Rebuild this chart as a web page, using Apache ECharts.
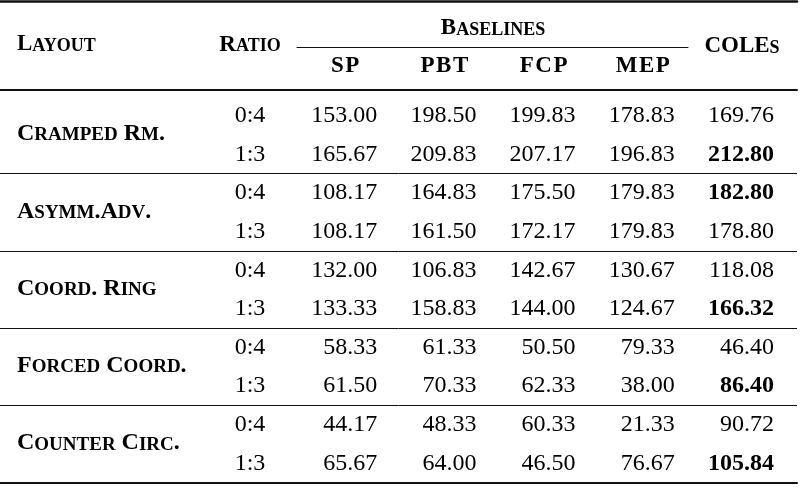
<!DOCTYPE html>
<html>
<head>
<meta charset="utf-8">
<script src="https://cdn.jsdelivr.net/npm/echarts@6/dist/echarts.min.js"></script>
<style>
html,body{margin:0;padding:0;background:#fff;}
#c{width:801px;height:488px;}
</style>
</head>
<body>
<div id="c"></div>
<script>
// ---- data ----
const layouts = ['Cramped Rm.', 'Asymm.Adv.', 'Coord. Ring', 'Forced Coord.', 'Counter Circ.'];
const ratios = ['0:4', '1:3'];
const columns = ['SP', 'PBT', 'FCP', 'MEP', 'COLEs'];
const headLayout = 'Layout';
const headRatio = 'Ratio';
const headBaselines = 'Baselines';
const SP    = [153.00, 165.67, 108.17, 108.17, 132.00, 133.33, 58.33, 61.50, 44.17, 65.67];
const PBT   = [198.50, 209.83, 164.83, 161.50, 106.83, 158.83, 61.33, 70.33, 48.33, 64.00];
const FCP   = [199.83, 207.17, 175.50, 172.17, 142.67, 144.00, 50.50, 62.33, 60.33, 46.50];
const MEP   = [178.83, 196.83, 179.83, 179.83, 130.67, 124.67, 79.33, 38.00, 21.33, 76.67];
const COLEs = [169.76, 212.80, 182.80, 178.80, 118.08, 166.32, 46.40, 86.40, 90.72, 105.84];

// ---- build ----
const FONT = 'Liberation Serif';
const INK = '#000';
const RULE = '#111';
const table = { SP, PBT, FCP, MEP, COLEs };

const rowIds = [];
layouts.forEach(l => ratios.forEach(r => rowIds.push(l + '|' + r)));

const best = layouts.map((l, g) => {
  let m = -Infinity;
  columns.forEach(c => ratios.forEach((r, j) => { m = Math.max(m, table[c][g * ratios.length + j]); }));
  return m;
});

const cellData = [];
columns.forEach((c, k) => {
  table[c].forEach((v, r) => {
    const item = { value: [k, r, v] };
    if (v === best[Math.floor(r / ratios.length)]) item.label = { fontWeight: 'bold' };
    cellData.push(item);
  });
});

function smallCaps(str) {
  let out = '', run = '', mode = null;
  for (const ch of str) {
    const isSmall = ch >= 'a' && ch <= 'z';
    const m = isSmall ? 's' : 'B';
    const c = isSmall ? ch.toUpperCase() : ch;
    if (mode !== null && m !== mode) { out += '{' + mode + '|' + run + '}'; run = ''; }
    mode = m; run += c;
  }
  if (run) out += '{' + mode + '|' + run + '}';
  return out;
}
function scRich(big, small) {
  return {
    B: { fontFamily: FONT, fontWeight: 'bold', fontSize: big, color: INK, verticalAlign: 'bottom' },
    s: { fontFamily: FONT, fontWeight: 'bold', fontSize: small, color: INK, verticalAlign: 'bottom', padding: [0, 0, 1, 0] }
  };
}
// lightly tracked bold header (letter spacing through token padding)
function tracked(str) {
  const chars = str.split('');
  return chars.map((ch, i) => '{' + (i < chars.length - 1 ? 'g' : 'e') + '|' + ch + '}').join('');
}
const headStyle = { fontFamily: FONT, fontWeight: 'bold', fontSize: 23, color: INK };

function ruleAxis(gridIndex, position, width) {
  return {
    gridIndex, type: 'value', min: 0, max: 1, position,
    axisLine: { show: true, onZero: false, lineStyle: { color: RULE, width } },
    axisTick: { show: false }, axisLabel: { show: false }, splitLine: { show: false }
  };
}
const hiddenAxis = {
  axisLine: { show: false }, axisTick: { show: false },
  axisLabel: { show: false }, splitLine: { show: false }
};

const chart = echarts.init(document.getElementById('c'), null, { renderer: 'canvas' });

const option = {
  animation: false,
  backgroundColor: '#ffffff',
  grid: [
    { left: 295.6, right: 9.4, top: 96.4, bottom: 5.2 },
    { left: 0, right: 4, top: 96.4, bottom: 5.2 },
    { left: 0, right: 4, top: 1.5, bottom: 398.3 },
    { left: 297, right: 113, top: 47.5, height: 1 }
  ],
  xAxis: [
    {
      gridIndex: 0, type: 'category', data: columns, position: 'top',
      axisLine: { show: false }, axisTick: { show: false }, splitLine: { show: false },
      axisLabel: {
        interval: 0, margin: 18.6,
        formatter: v => (v === 'COLEs' ? '' : tracked(v)),
        rich: {
          g: Object.assign({ padding: [0, 1.5, 0, 0] }, headStyle),
          e: Object.assign({}, headStyle)
        }
      }
    },
    {
      gridIndex: 0, type: 'category', data: columns, position: 'top',
      axisLine: { show: false }, axisTick: { show: false }, splitLine: { show: false },
      axisLabel: {
        interval: 0, margin: 38.4,
        formatter: v => (v === 'COLEs' ? smallCaps(v) : ''),
        rich: scRich(23, 18)
      }
    },
    ruleAxis(1, 'bottom', 2),
    ruleAxis(2, 'top', 2.5),
    ruleAxis(2, 'bottom', 2),
    ruleAxis(3, 'top', 1)
  ],
  yAxis: [
    {
      gridIndex: 0, type: 'category', data: rowIds, inverse: true,
      axisLine: { show: false }, axisTick: { show: false }, splitLine: { show: false },
      axisLabel: {
        interval: 0, margin: 45.6, align: 'center',
        fontFamily: FONT, fontSize: 24, color: INK,
        formatter: v => v.split('|')[1]
      }
    },
    {
      gridIndex: 1, type: 'category', data: layouts, inverse: true,
      axisLine: { show: false }, axisTick: { show: false },
      axisLabel: {
        inside: true, interval: 0, margin: 17, align: 'left', padding: [0, 0, 2, 0],
        formatter: v => smallCaps(v), rich: scRich(24, 19)
      },
      splitLine: {
        show: true,
        lineStyle: { width: 1, color: ['rgba(0,0,0,0)', RULE, RULE, RULE, RULE, 'rgba(0,0,0,0)'] }
      }
    },
    Object.assign({ gridIndex: 2, type: 'value', min: 0, max: 1 }, hiddenAxis),
    Object.assign({ gridIndex: 3, type: 'value', min: 0, max: 1 }, hiddenAxis)
  ],
  graphic: [
    {
      type: 'text', left: 17, top: 33, silent: true,
      style: { text: smallCaps(headLayout), rich: scRich(23, 18), fill: INK }
    },
    {
      type: 'text', x: 250, y: 45, silent: true,
      style: { text: smallCaps(headRatio), rich: scRich(23, 18), align: 'center', verticalAlign: 'middle', fill: INK }
    },
    {
      type: 'text', x: 493, y: 28.5, silent: true,
      style: { text: smallCaps(headBaselines), rich: scRich(23, 18), align: 'center', verticalAlign: 'middle', fill: INK }
    }
  ],
  series: [
    {
      type: 'scatter', xAxisIndex: 0, yAxisIndex: 0, data: cellData,
      symbolSize: 0, itemStyle: { color: '#000', opacity: 0 }, silent: true,
      label: {
        show: true, position: [32, 0], align: 'right', verticalAlign: 'middle',
        fontFamily: FONT, fontSize: 24, color: INK, opacity: 1,
        textBorderWidth: 0, textBorderColor: 'transparent',
        formatter: p => p.value[2].toFixed(2)
      }
    }
  ]
};
chart.setOption(option);
</script>
</body>
</html>
